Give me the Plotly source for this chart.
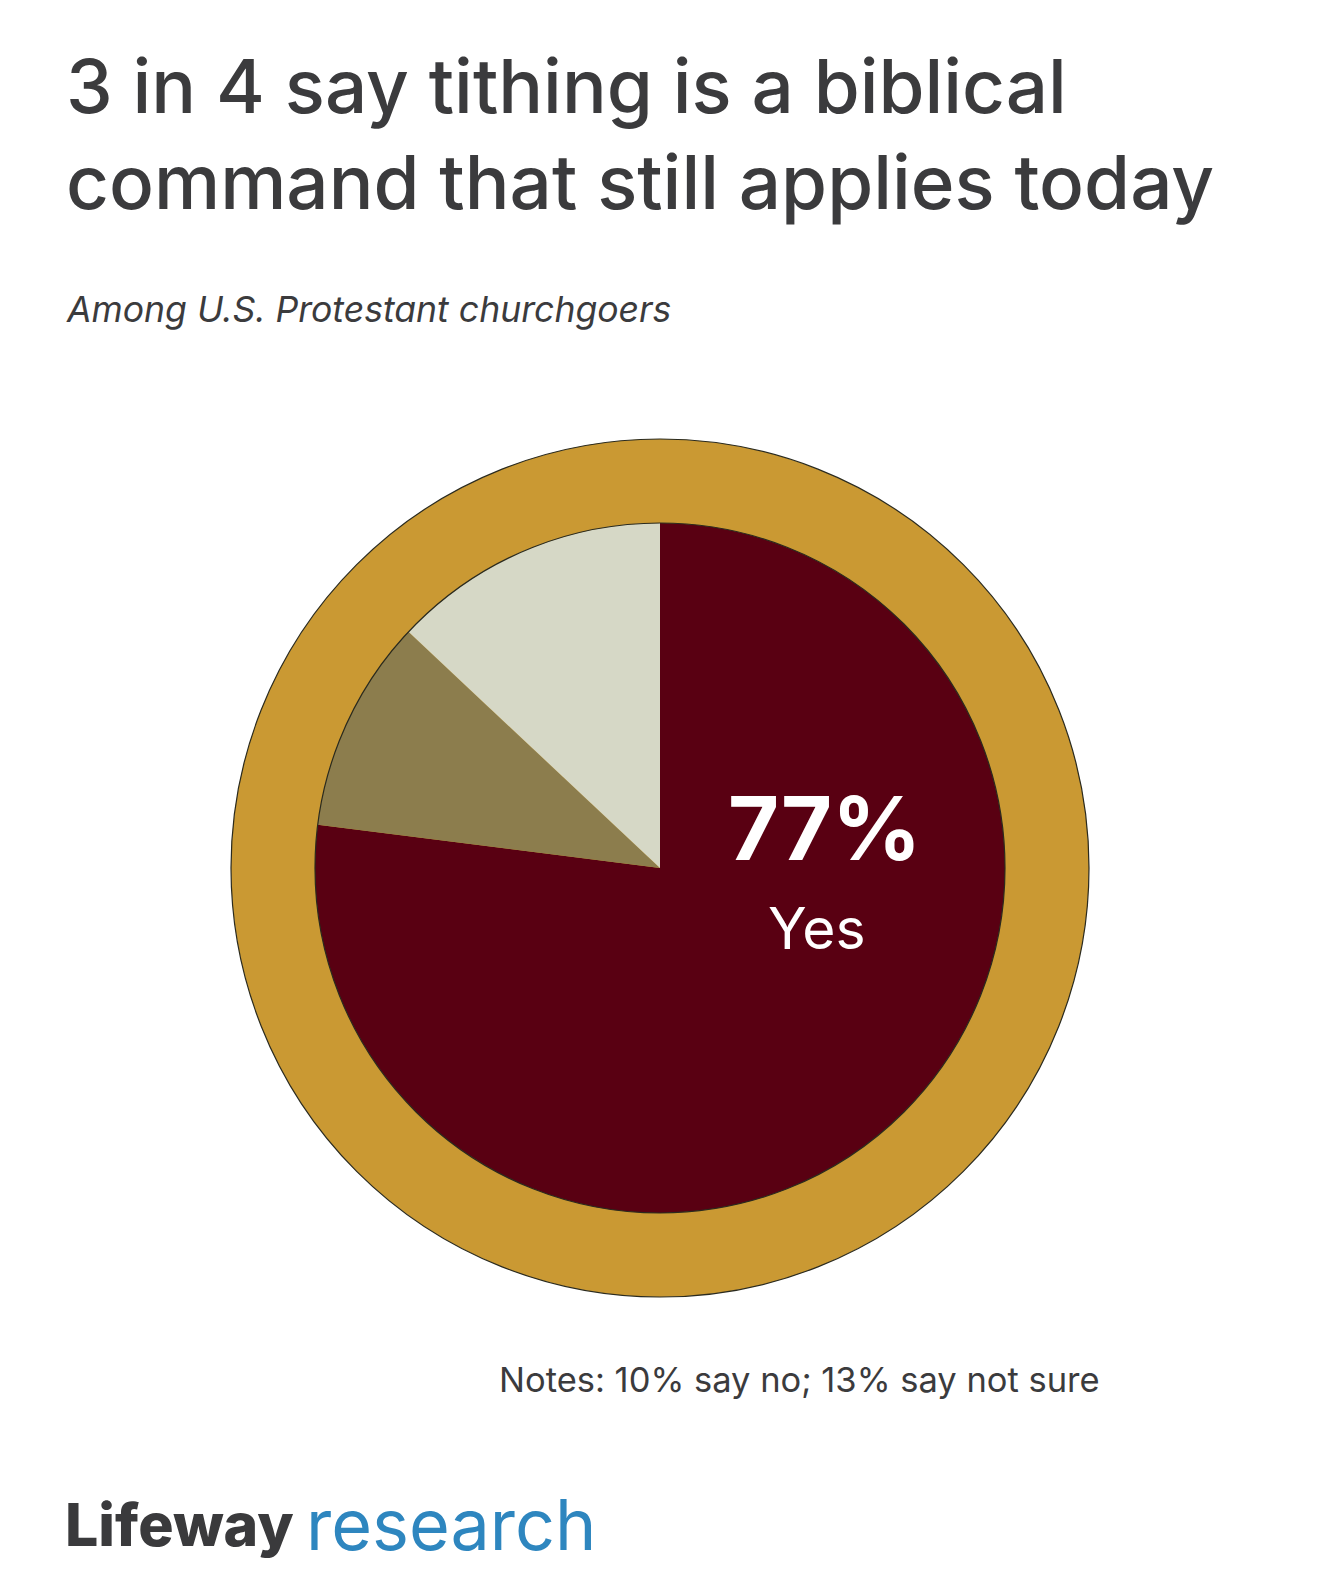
import plotly.graph_objects as go

labels = ["Yes", "No", "Not sure"]
values = [77, 10, 13]
colors = ["#590012", "#8C7D4D", "#D6D8C6"]

ring_label = ["All"]
ring_value = [100]
ring_color = ["#CA9933"]

title_lines = ["3 in 4 say tithing is a biblical", "command that still applies today"]
subtitle = "Among U.S. Protestant churchgoers"
note = "Notes: 10% say no; 13% say not sure"

W, H = 1320, 1590
# page body adds an 8px margin around the plot
OFF = 8
font = "Inter"
dark = "#3b3b3d"
edge = "#2a2a1e"


def px_domain(cx, cy, r):
    # pie domain in paper coords from pixel centre and radius
    cx, cy = cx - OFF, cy - OFF
    return dict(x=[(cx - r) / W, (cx + r) / W], y=[1 - (cy + r) / H, 1 - (cy - r) / H])


fig = go.Figure()
fig.add_trace(go.Pie(
    labels=ring_label, values=ring_value, sort=False,
    marker=dict(colors=ring_color, line=dict(color=edge, width=1.2)),
    textinfo="none", hoverinfo="skip", domain=px_domain(660, 868, 429),
))
fig.add_trace(go.Pie(
    labels=labels, values=values, sort=False, direction="clockwise", rotation=0,
    marker=dict(colors=colors, line=dict(width=0)),
    textinfo="none", domain=px_domain(660, 868, 345),
))
# outline only, the slices have no separators
fig.add_trace(go.Pie(
    labels=ring_label, values=ring_value, sort=False,
    marker=dict(colors=["rgba(0,0,0,0)"], line=dict(color=edge, width=1.2)),
    textinfo="none", hoverinfo="skip", domain=px_domain(660, 868, 345),
))


def text(s, x, y, size, color=dark, anchor="left", italic=False, weight=None, family=font):
    fig.add_annotation(
        text=f"<i>{s}</i>" if italic else s,
        x=(x - OFF) / W, y=1 - (y - OFF) / H, xref="paper", yref="paper",
        xanchor=anchor, yanchor="middle", showarrow=False,
        font=dict(family=family, size=size, color=color, weight=weight),
    )


text(title_lines[0], 64, 86, 74.5, weight=500)
text(title_lines[1], 64, 182, 74.5, weight=500)
text(subtitle, 64, 310, 35.6, italic=True)
text("77%", 824, 828, 88, color="#ffffff", anchor="center", weight=700)
text("Yes", 817, 928, 57, color="#ffffff", anchor="center")
text(note, 497, 1379, 34.5)
text("Lifeway", 63, 1524, 59, color="#3a3a3c", weight=800)
text("research", 304, 1524, 70, color="#2E86BF")

fig.update_layout(
    width=W, height=H, margin=dict(l=0, r=0, t=0, b=0),
    paper_bgcolor="white", showlegend=False,
)
fig.write_html("out.html")
